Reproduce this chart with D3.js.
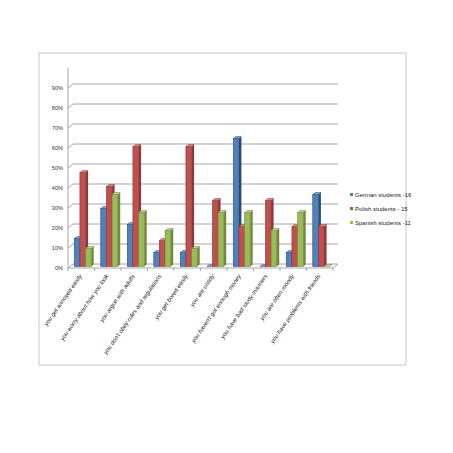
<!DOCTYPE html>
<html>
<head>
<meta charset="utf-8">
<script src="https://cdn.jsdelivr.net/npm/d3@7"></script>
<style>
  body { margin: 0; background: #fff; }
  svg { display: block; font-family: "Liberation Sans", Arial, sans-serif; }
  .grid { stroke: #a6a6a6; fill: none; stroke-width: 1; }
  .tick-label { font-size: 5.6px; fill: #333; }
  .cat-label { font-size: 6px; fill: #222; font-style: italic; }
  .legend text { font-size: 6px; fill: #222; }
</style>
</head>
<body>
<svg id="chart" width="453" height="453"></svg>
<script>

// data (percent of students)
const categories = [
  "you get annoyed easily",
  "you worry about how you look",
  "you argue with adults",
  "you don't obey rules and regulations",
  "you get bored easily",
  "you are untidy",
  "you haven't got enough money",
  "you have bad study manners",
  "you are often moody",
  "you have problems with friends"
];
const seriesNames = ["German students -16", "Polish students - 15", "Spanish students -11"];
const german  = [14, 29, 21, 7, 7, 0, 64, 0, 7, 36];
const polish  = [47, 40, 60, 13, 60, 33, 20, 33, 20, 20];
const spanish = [9, 36, 27, 18, 9, 27, 27, 18, 27, 0];
const yTicks = [0, 10, 20, 30, 40, 50, 60, 70, 80, 90];

const colors = ["#4f81bd", "#c0504d", "#9bbb59"];
const edges  = ["#2c4d75", "#8c3836", "#71893f"];
const tops   = ["#7ea3d3", "#d88583", "#bad48a"];

const svg = d3.select('#chart');

// outer chart frame
svg.append('rect')
  .attr('x', 39).attr('y', 53)
  .attr('width', 367).attr('height', 312)
  .attr('fill', '#fff')
  .attr('stroke', '#c8c8c8');

const left = 68, right = 333;
const depth = { dx: 5, dy: -4 };   // 3d wall offset

const yScale = d3.scaleLinear()
  .domain([0, 100])
  .range([268, 68]);

const xScale = d3.scaleBand()
  .domain(categories)
  .range([left, right])
  .paddingInner(0.36)
  .paddingOuter(0.18);

const inner = d3.scaleBand()
  .domain(d3.range(seriesNames.length))
  .range([0, xScale.bandwidth()]);

const chart = svg.append('g');

// floor plate
chart.append('path')
  .attr('d', `M${left},${yScale(0)} L${right},${yScale(0)} L${right + depth.dx},${yScale(0) + depth.dy} L${left + depth.dx},${yScale(0) + depth.dy} Z`)
  .attr('fill', '#fff')
  .attr('stroke', '#a6a6a6');

// back wall grid lines, with a slanted start on the side wall
chart.selectAll('.grid')
  .data(yTicks.filter(d => d > 0))
  .enter()
  .append('path')
  .attr('class', 'grid')
  .attr('d', d => `M${left},${yScale(d)} L${left + depth.dx},${yScale(d) + depth.dy} L${right + depth.dx},${yScale(d) + depth.dy}`);

// vertical axis
chart.append('line')
  .attr('x1', left).attr('x2', left)
  .attr('y1', yScale(100)).attr('y2', yScale(0))
  .attr('stroke', '#a6a6a6');

chart.selectAll('.tick-label')
  .data(yTicks)
  .enter()
  .append('text')
  .attr('class', 'tick-label')
  .attr('x', left - 5)
  .attr('y', d => yScale(d) + 2)
  .attr('text-anchor', 'end')
  .text(d => d + '%');

// small ticks below the floor
chart.selectAll('.xtick')
  .data(d3.range(categories.length + 1))
  .enter()
  .append('line')
  .attr('x1', i => left + i * (right - left) / categories.length)
  .attr('x2', i => left + i * (right - left) / categories.length)
  .attr('y1', yScale(0))
  .attr('y2', yScale(0) + 3)
  .attr('stroke', '#a6a6a6');

// bars
const rows = [];
categories.forEach((c, i) => {
  [german, polish, spanish].forEach((s, k) => rows.push({ cat: c, k: k, v: s[i] }));
});

const bw = inner.bandwidth();
const bd = { dx: 2.5, dy: -2 };   // bar depth
const mid = { dx: 1.5, dy: -1.5 }; // bars sit in the middle of the floor depth

const bars = chart.selectAll('.bar')
  .data(rows)
  .enter()
  .append('g')
  .attr('class', 'bar')
  .attr('transform', d => `translate(${xScale(d.cat) + inner(d.k) + mid.dx}, ${mid.dy})`);

// side face
bars.append('path')
  .attr('d', d => {
    const y0 = yScale(0), y1 = yScale(d.v);
    return `M${bw},${y1} L${bw + bd.dx},${y1 + bd.dy} L${bw + bd.dx},${y0 + bd.dy} L${bw},${y0} Z`;
  })
  .attr('fill', d => edges[d.k]);

// front face
bars.append('rect')
  .attr('x', 0)
  .attr('y', d => yScale(d.v))
  .attr('width', bw)
  .attr('height', d => yScale(0) - yScale(d.v))
  .attr('fill', d => colors[d.k])
  .attr('stroke', d => edges[d.k])
  .attr('stroke-width', 0.6);

// top face
bars.append('path')
  .attr('d', d => {
    const y1 = yScale(d.v);
    return `M0,${y1} L${bd.dx},${y1 + bd.dy} L${bw + bd.dx},${y1 + bd.dy} L${bw},${y1} Z`;
  })
  .attr('fill', d => tops[d.k])
  .attr('stroke', d => edges[d.k])
  .attr('stroke-width', 0.5);

// category labels
chart.selectAll('.cat-label')
  .data(categories)
  .enter()
  .append('text')
  .attr('class', 'cat-label')
  .attr('text-anchor', 'end')
  .attr('transform', d => `translate(${xScale(d) + xScale.bandwidth() / 2 + 1}, ${yScale(0) + 8}) rotate(-55)`)
  .text(d => d);

// legend
const legend = svg.append('g')
  .attr('class', 'legend')
  .attr('transform', 'translate(350, 196)');

const items = legend.selectAll('g')
  .data(seriesNames)
  .enter()
  .append('g')
  .attr('transform', (d, i) => `translate(0, ${i * 14})`);

items.append('rect')
  .attr('x', 0).attr('y', -3)
  .attr('width', 3).attr('height', 3)
  .attr('fill', (d, i) => colors[i]);

items.append('text')
  .attr('x', 5)
  .attr('y', 0.5)
  .text(d => d);

</script>
</body>
</html>
